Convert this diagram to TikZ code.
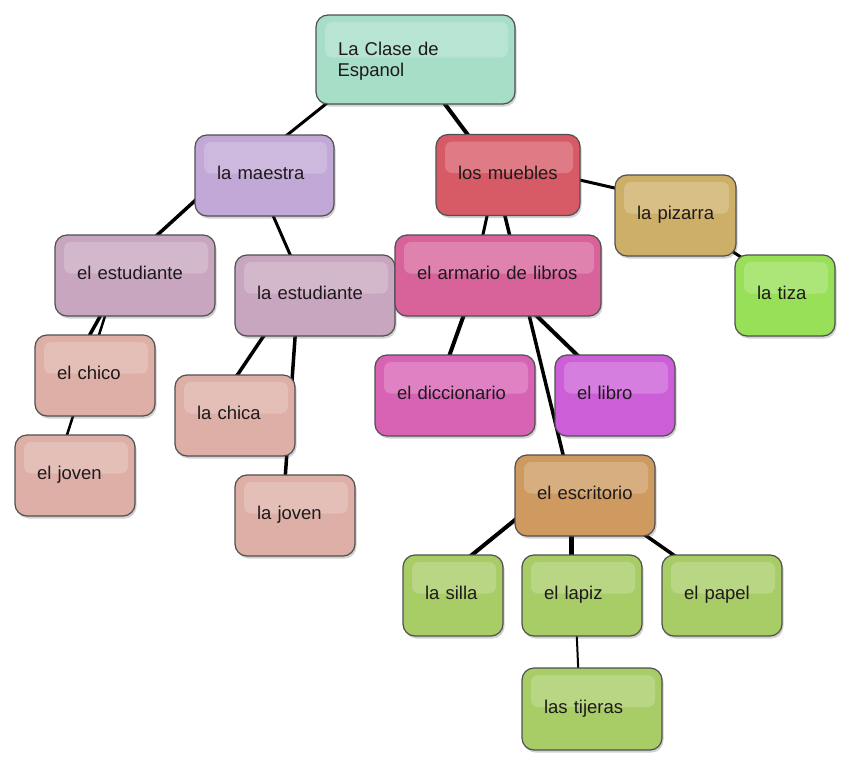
\documentclass[tikz,border=0pt]{standalone}
\usepackage{fontspec}
\setmainfont{Liberation Sans}
\usetikzlibrary{shadows}
\pgfdeclarelayer{background}
\pgfsetlayers{background,main}
\definecolor{bordercol}{HTML}{505050}
\definecolor{textcol}{HTML}{1E1A1C}
\definecolor{rootc}{HTML}{A6DEC8}
\definecolor{maestrac}{HTML}{C2A8D6}
\definecolor{studc}{HTML}{C9A6BF}
\definecolor{childc}{HTML}{DDAFA6}
\definecolor{mueblesc}{HTML}{D75B66}
\definecolor{armarioc}{HTML}{D8639A}
\definecolor{pizarrac}{HTML}{CEAF68}
\definecolor{tizac}{HTML}{98E058}
\definecolor{diccc}{HTML}{D862B4}
\definecolor{libroc}{HTML}{CC5ED8}
\definecolor{escric}{HTML}{CE9A60}
\definecolor{leafc}{HTML}{A8CC66}
\tikzset{
  boxbase/.style 2 args={draw=bordercol, line width=1.2pt, rounded corners=12pt,
    fill=#1, text width=#2, inner xsep=0pt, inner ysep=0pt,
    minimum height=81pt, align=left,
    font=\fontsize{18.5}{21}\selectfont, text=textcol,
    execute at begin node={\hspace*{22pt}},
    drop shadow={shadow xshift=1.5pt, shadow yshift=-2.5pt, opacity=0.25, fill=black!70},
    path picture={\fill[white,opacity=0.2,rounded corners=7pt]
      ([shift={(9pt,-7pt)}]path picture bounding box.north west) rectangle
      ([shift={(-7pt,2pt)}]path picture bounding box.east);}},
  box/.style 2 args={boxbase={#1}{#2}, text height=14pt, text depth=6pt},
  conn/.style={draw=black, line width=#1, line cap=round},
  conn/.default=3pt
}
\begin{document}
\begin{tikzpicture}[x=1pt,y=-1pt]
\useasboundingbox (0,0) rectangle (860,774);
% nodes
\node[boxbase={rootc}{199pt}, minimum height=89pt, text height=13.5pt, text depth=21pt] (root) at (415.5,59.5) {La Clase de\\\hspace*{21.5pt}Espanol};
\node[box={maestrac}{139pt}] (maestra) at (264.5,175.5) {la maestra};
\node[box={mueblesc}{144pt}] (muebles) at (508,175) {los muebles};
\node[box={pizarrac}{121pt}] (pizarra) at (675.5,215.5) {la pizarra};
\node[box={tizac}{100pt}] (tiza) at (785,295.5) {la tiza};
\node[box={studc}{160pt}] (estudiante) at (135,275.5) {el estudiante};
\node[box={studc}{160pt}] (laestudiante) at (315,295.5) {la estudiante};
\node[box={armarioc}{206pt}] (armario) at (498,275.5) {el armario de libros};
\node[box={childc}{120pt}] (chico) at (95,375.5) {el chico};
\node[box={childc}{120pt}] (eljoven) at (75,475.5) {el joven};
\node[box={childc}{120pt}] (chica) at (235,415.5) {la chica};
\node[box={childc}{120pt}] (lajoven) at (295,515.5) {la joven};
\node[box={diccc}{160pt}] (diccionario) at (455,395.5) {el diccionario};
\node[box={libroc}{120pt}] (libro) at (615,395.5) {el libro};
\node[box={escric}{140pt}] (escritorio) at (585,495.5) {el escritorio};
\node[box={leafc}{100pt}] (silla) at (453,595.5) {la silla};
\node[box={leafc}{120pt}] (lapiz) at (582,595.5) {el lapiz};
\node[box={leafc}{120pt}] (papel) at (722,595.5) {el papel};
\node[box={leafc}{140pt}, minimum height=82pt] (tijeras) at (592,709) {las tijeras};
% connectors
\begin{pgfonlayer}{background}
\fill[white] (0,0) rectangle (860,774);
\draw[conn=3pt] ([shift={(-34,0)}]root.center) -- ([shift={(-28,0)}]maestra.center);
\draw[conn=4pt] ([shift={(-4,0)}]root.center) -- ([shift={(-10,0)}]muebles.center);
\draw[conn=3.5pt] ([shift={(-42,0)}]maestra.center) -- ([shift={(-22,0)}]estudiante.center);
\draw[conn=3pt] ([shift={(-9,0)}]maestra.center) -- ([shift={(-7,0)}]laestudiante.center);
\draw[conn=3.5pt] ([shift={(-12,0)}]estudiante.center) -- ([shift={(-28,0)}]chico.center);
\draw[conn=2.5pt] ([shift={(-17,0)}]estudiante.center) -- ([shift={(-21,0)}]eljoven.center);
\draw[conn=3.5pt] ([shift={(-24,0)}]laestudiante.center) -- ([shift={(-25,0)}]chica.center);
\draw[conn=3.5pt] ([shift={(-17,0)}]laestudiante.center) -- ([shift={(-12.5,0)}]lajoven.center);
\draw[conn=3pt] ([shift={(0,-11.5)}]muebles.center) -- ([shift={(0,-13.5)}]pizarra.center);
\draw[conn=3pt] ([shift={(0,-2)}]pizarra.center) -- ([shift={(0,-9)}]tiza.center);
\draw[conn=3pt] ([shift={(-12,0)}]muebles.center) -- ([shift={(-24,0)}]armario.center);
\draw[conn=3.5pt] ([shift={(-13,0)}]muebles.center) -- ([shift={(-12,0)}]escritorio.center);
\draw[conn=4pt] ([shift={(-20,0)}]armario.center) -- ([shift={(-20,0)}]diccionario.center);
\draw[conn=4pt] ([shift={(-3,0)}]armario.center) -- ([shift={(4,0)}]libro.center);
\draw[conn=4pt] ([shift={(-40,0)}]escritorio.center) -- ([shift={(-31,0)}]silla.center);
\draw[conn=5pt] ([shift={(-14,0)}]escritorio.center) -- ([shift={(-11,0)}]lapiz.center);
\draw[conn=3.5pt] ([shift={(3.5,0)}]escritorio.center) -- ([shift={(9.5,0)}]papel.center);
\draw[conn=2pt] ([shift={(-7,0)}]lapiz.center) -- ([shift={(-12,0)}]tijeras.center);
\end{pgfonlayer}
\end{tikzpicture}
\end{document}
